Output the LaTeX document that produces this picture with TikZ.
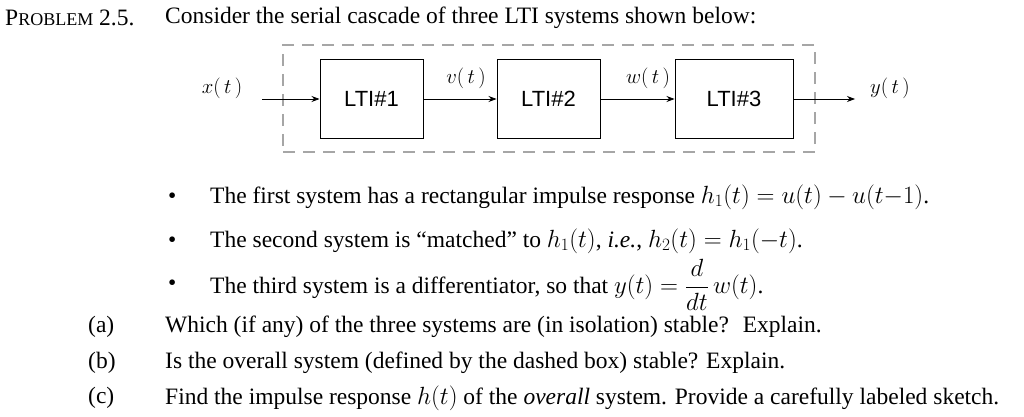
\documentclass[tikz,border=0pt]{standalone}
\usepackage{amsmath}
\usepackage{fontspec}
\setmainfont{Liberation Serif}
\setsansfont{Liberation Sans}
\usetikzlibrary{arrows.meta}
\begin{document}
\begin{tikzpicture}[x=1pt,y=-1pt,
  txt/.style={anchor=west,inner sep=0pt,font=\fontsize{23.5}{28}\selectfont},
  lti/.style={draw,line width=1pt,minimum height=78pt,font=\sffamily\fontsize{22}{26}\selectfont},
  sig/.style={inner sep=0pt,font=\fontsize{21}{24}\selectfont},
  arr/.style={-{Stealth[length=8pt,width=6pt]},line width=0.8pt}]
\useasboundingbox (0,0) rectangle (1024,417);
\node[txt] (title) at (5,18) {P{\fontsize{18}{20}\selectfont ROBLEM} 2.5.};
\node[txt] (intro) at (165,18) {Consider the serial cascade of three LTI systems shown below:};
\node[draw=gray!70,dashed,dash pattern=on 12pt off 8pt,line width=1.6pt,minimum width=532pt,minimum height=107pt] (outer) at (549,98.5) {};
\node[lti,minimum width=103pt] (s1) at (371.5,99) {LTI\#1};
\node[lti,minimum width=103pt] (s2) at (548.5,99) {LTI\#2};
\node[lti,minimum width=118pt] (s3) at (734,99) {LTI\#3};
\coordinate (in) at (262,99);
\coordinate (out) at (855,99);
\node[sig] (x) at (222,88) {$x(\,t\,)$};
\node[sig] (y) at (890,88) {$y(\,t\,)$};
\node[sig] (v) at (466,78) {$v(\,t\,)$};
\node[sig] (w) at (648,78) {$w(\,t\,)$};
\draw[arr] (in) -- (s1);
\draw[arr] (s1) -- (s2);
\draw[arr] (s2) -- (s3);
\draw[arr] (s3) -- (out);
\node[txt] (b1) at (168,198) {\textbullet};
\node[txt] (t1) at (210,197) {The first system has a rectangular impulse response $h_1(t)=u(t)-u(t{-}1)$.};
\node[txt] (b2) at (168,242) {\textbullet};
\node[txt] (t2) at (210,241) {The second system is “matched” to $h_1(t)$, \textit{i.e.}, $h_2(t)=h_1(-t)$.};
\node[txt] (b3) at (168,285) {\textbullet};
\node[txt] (t3) at (210,285) {The third system is a differentiator, so that $y(t)=\dfrac{d}{dt}\,w(t)$.};
\node[txt] (la) at (88,327) {(a)};
\node[txt] (qa) at (165,327) {Which (if any) of the three systems are (in isolation) stable? \ Explain.};
\node[txt] (lb) at (88,363) {(b)};
\node[txt] (qb) at (165,363) {Is the overall system (defined by the dashed box) stable? Explain.};
\node[txt] (lc) at (88,398) {(c)};
\node[txt] (qc) at (165,398) {Find the impulse response $h(t)$ of the \textit{overall} system. Provide a carefully labeled sketch.};
\end{tikzpicture}
\end{document}
